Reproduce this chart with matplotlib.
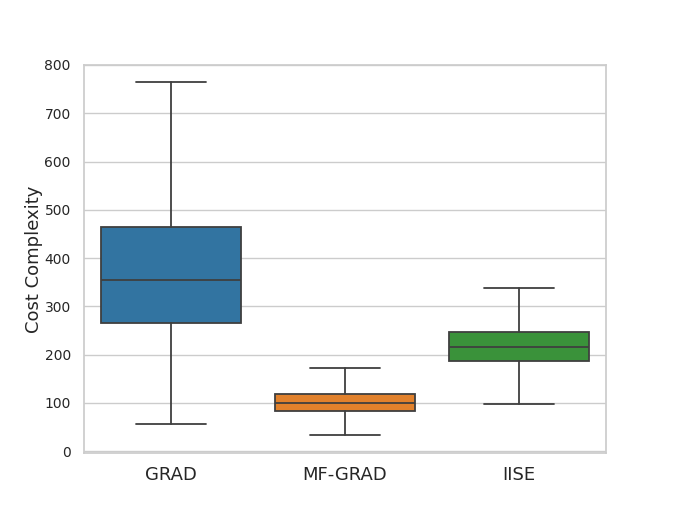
import matplotlib
matplotlib.use("Agg")
import matplotlib.pyplot as plt
import seaborn as sns

sns.set_theme(style="whitegrid")

# box statistics
methods = ["GRAD", "MF-GRAD", "IISE"]
whisker_low = [56, 34, 98]
q1 = [266, 84, 187]
median = [355, 99, 215]
q3 = [465, 119, 247]
whisker_high = [764, 172, 338]
colors = ["#3274a1", "#e1812c", "#3a923a"]

stats = []
for i, name in enumerate(methods):
    stats.append({"label": name, "whislo": whisker_low[i], "q1": q1[i], "med": median[i],
                  "q3": q3[i], "whishi": whisker_high[i], "fliers": []})

fig = plt.figure(figsize=(6.79, 5.12), dpi=100)
ax = fig.add_axes([84 / 679, 1 - 453 / 512, (606 - 84) / 679, (453 - 65) / 512])

line_col = "#3f3f3f"
bp = ax.bxp(stats, positions=range(len(methods)), widths=0.8, patch_artist=True,
            showfliers=False,
            boxprops=dict(edgecolor=line_col, linewidth=1.3),
            medianprops=dict(color=line_col, linewidth=1.3),
            whiskerprops=dict(color=line_col, linewidth=1.3),
            capprops=dict(color=line_col, linewidth=1.3),
            capwidths=0.4)
for patch, c in zip(bp["boxes"], colors):
    patch.set_facecolor(c)

ax.set_xlim(-0.5, 2.5)
ax.set_ylim(-4, 800)
ax.set_yticks(range(0, 801, 100))
ax.xaxis.grid(False)
ax.set_xticks(range(len(methods)))
ax.set_xticklabels(methods, fontsize=13)
ax.tick_params(axis="y", labelsize=10)
ax.set_ylabel("Cost Complexity", fontsize=13, labelpad=1)

fig.savefig("out.png", dpi=100)
